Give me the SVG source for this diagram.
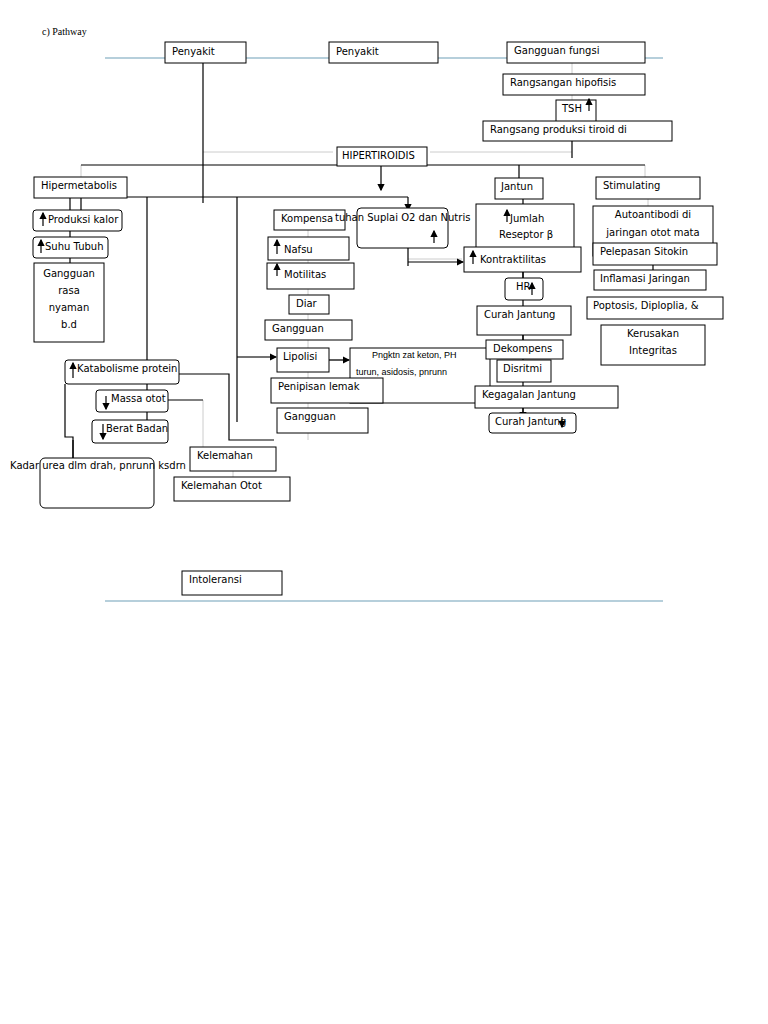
<svg xmlns="http://www.w3.org/2000/svg" width="768" height="1024" viewBox="0 0 768 1024">
<style>
text{font-family:"DejaVu Sans",sans-serif;font-size:10px;fill:#000}
.b{fill:#fff;stroke:#000;stroke-width:1}
.c{fill:none;stroke:#000;stroke-width:1.2}
.g{fill:none;stroke:#ccc;stroke-width:1}
.bl{stroke:#6fa0b8;stroke-width:1.2}
</style>
<defs>
<marker id="a" markerWidth="6" markerHeight="6" refX="5" refY="3" orient="auto"><path d="M0,0L6,3L0,6z" fill="#000"/></marker>
</defs>
<rect width="768" height="1024" fill="#fff"/>
<text x="42" y="35" style="font-family:'Liberation Serif',serif;font-size:10px">c)  Pathway</text>
<line class="bl" x1="105" y1="58" x2="663" y2="58"/>
<line class="bl" x1="105" y1="601" x2="663" y2="601"/>
<g id="connectors">
<path class="g" d="M572,63V121 M203,152H333 M572,152H430 M81,165V177 M645,165V177 M308,220V440 M237,357H275 M329,360H348 M408,259H462 M203,400V447 M233,465V500 M648,199V206 M48,470V500"/>
<path class="c" d="M203,63V203 M572,141V158 M81,165H645 M519,165V178 M127,197H408 M81,198V210 M237,197V422 M523,199V300 M523,290V430 M383,398H475 M408,248V266 M179,374H229V440H274 M168,400H203 M65,384V437H73V498 M653,256V270"/>
<path class="c" marker-end="url(#a)" d="M381,166V190"/>
<path class="c" marker-end="url(#a)" d="M408,197V210"/>
<path class="c" marker-end="url(#a)" d="M147,197V368"/>
<path class="c" marker-end="url(#a)" d="M147,368V398"/>
<path class="c" marker-end="url(#a)" d="M147,398V430"/>
<path class="c" marker-end="url(#a)" d="M70,197V220"/>
<path class="c" marker-end="url(#a)" d="M70,230V247"/>
<path class="c" d="M70,247V263"/>
<path class="c" marker-end="url(#a)" d="M237,357H276"/>
<path class="c" marker-end="url(#a)" d="M329,360H349"/>
<path class="c" marker-end="url(#a)" d="M408,262H463"/>
<path class="c" marker-end="url(#a)" d="M523,270V285"/>
<path class="c" marker-end="url(#a)" d="M523,330V348"/>
<path class="c" marker-end="url(#a)" d="M523,400V418"/>
<path class="c" marker-end="url(#a)" d="M73,440V498"/>
</g>
<g id="n1"><rect class="b" x="165" y="42" width="81" height="21"/><text x="172" y="55">Penyakit</text></g>
<g id="n2"><rect class="b" x="329" y="42" width="109" height="21"/><text x="336" y="55">Penyakit</text></g>
<g id="n3"><rect class="b" x="507" y="42" width="138" height="21"/><text x="514" y="54">Gangguan fungsi</text></g>
<g id="n4"><rect class="b" x="503" y="74" width="142" height="21"/><text x="510" y="86">Rangsangan hipofisis</text></g>
<g id="n5"><rect class="b" x="556" y="100" width="40" height="22"/><text x="562" y="112">TSH</text><path class="c" marker-end="url(#a)" d="M589,111V99"/></g>
<g id="n6"><rect class="b" x="483" y="121" width="189" height="20"/><text x="490" y="133">Rangsang produksi tiroid di</text></g>
<g id="n7"><rect class="b" x="337" y="147" width="90" height="19"/><text x="342" y="159">HIPERTIROIDIS</text></g>
<g id="n8"><rect class="b" x="34" y="177" width="93" height="21"/><text x="41" y="189">Hipermetabolis</text></g>
<g id="n9"><rect class="b" x="33" y="210" width="89" height="21" rx="3"/><text x="48" y="223">Produksi kalor</text><path class="c" marker-end="url(#a)" d="M43,226V213"/></g>
<g id="n10"><rect class="b" x="33" y="237" width="75" height="21" rx="3"/><text x="45" y="250">Suhu Tubuh</text><path class="c" marker-end="url(#a)" d="M41,253V240"/></g>
<g id="n11"><rect class="b" x="34" y="263" width="70" height="79"/><text x="69" y="277" text-anchor="middle">Gangguan</text><text x="69" y="294" text-anchor="middle">rasa</text><text x="69" y="311" text-anchor="middle">nyaman</text><text x="69" y="328" text-anchor="middle">b.d</text></g>
<g id="n12"><rect class="b" x="274" y="210" width="71" height="20"/><text x="281" y="222">Kompensa</text></g>
<g id="n13"><rect class="b" x="357" y="208" width="91" height="40" rx="4"/><text x="335" y="221">tuhan Suplai O2 dan Nutris</text><path class="c" marker-end="url(#a)" d="M434,243V231"/></g>
<g id="n14"><rect class="b" x="268" y="237" width="81" height="23"/><text x="284" y="253">Nafsu</text><path class="c" marker-end="url(#a)" d="M277,254V240"/></g>
<g id="n15"><rect class="b" x="267" y="263" width="87" height="26"/><text x="284" y="278">Motilitas</text><path class="c" marker-end="url(#a)" d="M277,276V264"/></g>
<g id="n16"><rect class="b" x="289" y="295" width="40" height="19"/><text x="296" y="307">Diar</text></g>
<g id="n17"><rect class="b" x="265" y="320" width="87" height="20"/><text x="272" y="332">Gangguan</text></g>
<g id="n18"><rect class="b" x="277" y="348" width="52" height="24"/><text x="283" y="360">Lipolisi</text></g>
<g id="n19"><rect class="b" x="350" y="348" width="140" height="55"/><text x="372" y="358" style="font-family:'Liberation Sans',sans-serif;font-size:9px">Pngktn zat keton, PH</text><text x="356" y="375" style="font-family:'Liberation Sans',sans-serif;font-size:9px">turun, asidosis, pnrunn</text></g>
<g id="n20"><rect class="b" x="271" y="378" width="112" height="25"/><text x="278" y="390">Penipisan lemak</text></g>
<g id="n21"><rect class="b" x="277" y="408" width="91" height="25"/><text x="284" y="420">Gangguan</text></g>
<g id="n22"><rect class="b" x="65" y="360" width="114" height="24" rx="3"/><text x="77" y="372">Katabolisme protein</text><path class="c" marker-end="url(#a)" d="M73,378V363"/></g>
<g id="n23"><rect class="b" x="96" y="390" width="72" height="22" rx="3"/><text x="111" y="402">Massa otot</text><path class="c" marker-end="url(#a)" d="M106,396V409"/></g>
<g id="n24"><rect class="b" x="92" y="420" width="76" height="23" rx="3"/><text x="106" y="432">Berat Badan</text><path class="c" marker-end="url(#a)" d="M103,424V439"/></g>
<g id="n25"><rect class="b" x="40" y="458" width="114" height="50" rx="5"/><text x="10" y="469">Kadar urea dlm drah,  pnrunn ksdrn</text></g>
<g id="n26"><rect class="b" x="190" y="447" width="86" height="24"/><text x="197" y="459">Kelemahan</text></g>
<g id="n27"><rect class="b" x="174" y="477" width="116" height="24"/><text x="181" y="489">Kelemahan Otot</text></g>
<g id="n28"><rect class="b" x="182" y="571" width="100" height="24"/><text x="189" y="583">Intoleransi</text></g>
<g id="n29"><rect class="b" x="495" y="178" width="48" height="21"/><text x="501" y="190">Jantun</text></g>
<g id="n30"><rect class="b" x="476" y="204" width="98" height="62"/><text x="510" y="222">Jumlah</text><text x="499" y="238">Reseptor β</text><path class="c" marker-end="url(#a)" d="M507,222V210"/></g>
<g id="n31"><rect class="b" x="464" y="247" width="117" height="25"/><text x="480" y="263">Kontraktilitas</text><path class="c" marker-end="url(#a)" d="M473,264V251"/></g>
<g id="n32"><rect class="b" x="505" y="278" width="38" height="22" rx="3"/><text x="516" y="290">HR</text><path class="c" marker-end="url(#a)" d="M532,295V283"/></g>
<g id="n33"><rect class="b" x="477" y="306" width="94" height="29"/><text x="484" y="318">Curah Jantung</text></g>
<g id="n34"><rect class="b" x="486" y="340" width="77" height="19"/><text x="493" y="352">Dekompens</text></g>
<g id="n35"><rect class="b" x="497" y="360" width="54" height="22"/><text x="503" y="372">Disritmi</text></g>
<g id="n36"><rect class="b" x="475" y="386" width="143" height="22"/><text x="482" y="398">Kegagalan Jantung</text></g>
<g id="n37"><rect class="b" x="489" y="413" width="87" height="20" rx="3"/><text x="495" y="425">Curah Jantung</text><path class="c" marker-end="url(#a)" d="M562,417V427"/></g>
<g id="n38"><rect class="b" x="596" y="177" width="104" height="22"/><text x="603" y="189">Stimulating</text></g>
<g id="n39"><rect class="b" x="593" y="206" width="120" height="50"/><text x="653" y="218" text-anchor="middle">Autoantibodi  di</text><text x="653" y="236" text-anchor="middle">jaringan otot mata</text></g>
<g id="n40"><rect class="b" x="593" y="243" width="124" height="22"/><text x="600" y="255">Pelepasan Sitokin</text></g>
<g id="n41"><rect class="b" x="594" y="270" width="112" height="20"/><text x="600" y="282">Inflamasi Jaringan</text></g>
<g id="n42"><rect class="b" x="587" y="297" width="136" height="22"/><text x="593" y="309">Poptosis, Diploplia, &amp;</text></g>
<g id="n43"><rect class="b" x="601" y="325" width="104" height="40"/><text x="653" y="337" text-anchor="middle">Kerusakan</text><text x="653" y="354" text-anchor="middle">Integritas</text></g>
</svg>
